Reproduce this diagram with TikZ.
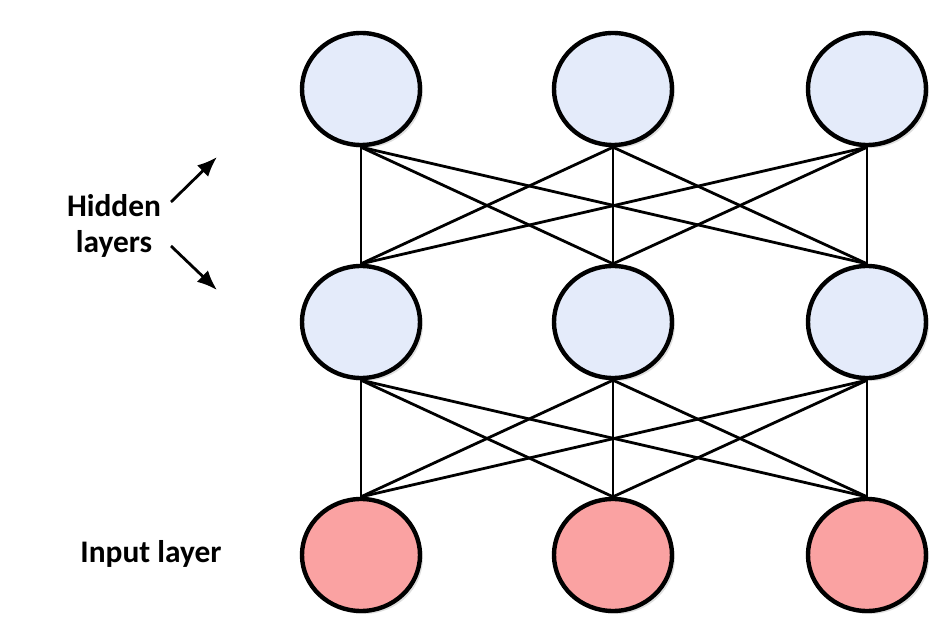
\documentclass[tikz,border=0pt]{standalone}
\usepackage{fontspec}
\setmainfont{Carlito}
\usetikzlibrary{shapes.geometric,shadows,arrows.meta}
\definecolor{hidblue}{RGB}{228,235,250}
\definecolor{inpink}{RGB}{250,162,162}
\tikzset{
  neuron/.style={ellipse,draw=black,line width=2.2pt,minimum width=59pt,minimum height=56pt,inner sep=0pt,
    drop shadow={opacity=0.25,shadow xshift=1.5pt,shadow yshift=-1.5pt}},
  link/.style={line width=1.4pt},
  pointer/.style={line width=1.4pt,-{Latex[length=10pt,width=8pt]}},
  lbl/.style={font=\fontsize{15.7}{18}\selectfont\bfseries,anchor=base,inner sep=0pt}
}
\begin{document}
\begin{tikzpicture}[x=0.5pt,y=-0.5pt]
\useasboundingbox (0,0) rectangle (950,626);
% the three layers
\foreach \c/\x in {1/361,2/613,3/867}{
  \node[neuron,fill=inpink] (in\c) at (\x,555) {};
  \node[neuron,fill=hidblue] (hA\c) at (\x,322) {};
  \node[neuron,fill=hidblue] (hB\c) at (\x,89) {};
}
% connections
\foreach \i in {1,2,3}{
  \foreach \j in {1,2,3}{
    \draw[link] (in\i.north) -- (hA\j.south);
    \draw[link] (hA\i.north) -- (hB\j.south);
  }
}
% labels
\node[lbl] (hid) at (114,217) {Hidden};
\node[lbl] (lay) at (114,253) {layers};
\node[lbl] (inp) at (151,563) {Input layer};
\coordinate (upfrom) at (171,202);
\coordinate (upto) at (217,157);
\coordinate (downfrom) at (171,246);
\coordinate (downto) at (217,290);
\draw[pointer] (upfrom) -- (upto);
\draw[pointer] (downfrom) -- (downto);
\end{tikzpicture}
\end{document}
